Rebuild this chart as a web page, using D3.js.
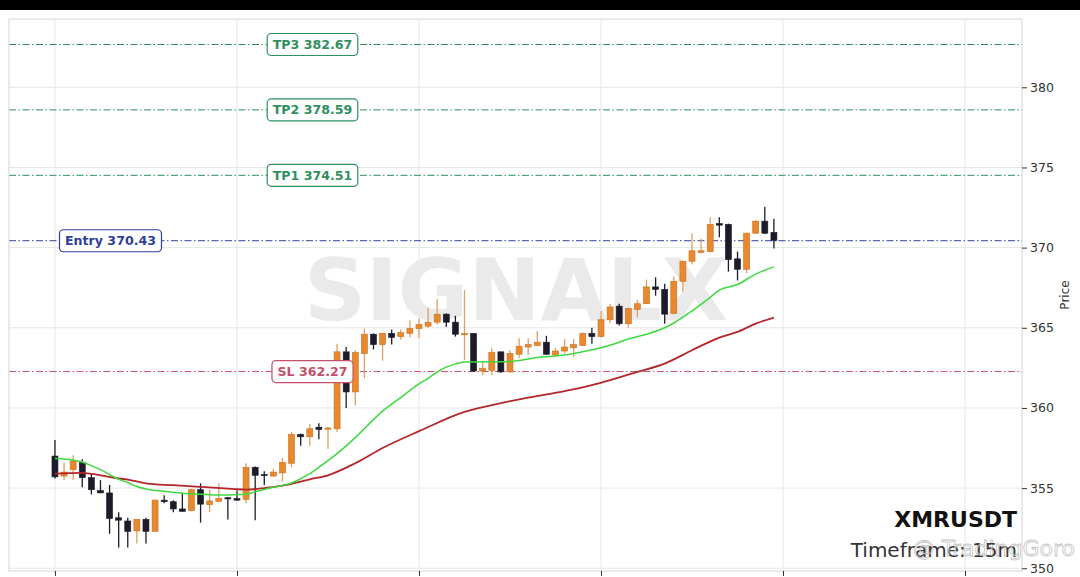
<!DOCTYPE html>
<html>
<head>
<meta charset="utf-8">
<script src="https://cdn.jsdelivr.net/npm/d3@7"></script>
<style>
  html, body { margin: 0; padding: 0; background: #fff; }
  svg { display: block; font-family: "DejaVu Sans", sans-serif; }
</style>
</head>
<body>
<svg id="chart" width="1080" height="577"></svg>
<script>
// candle data (15m bars)
const openV = [357.0,355.75,356.15,356.6,355.65,354.85,354.7,353.15,352.95,352.33,
  353.05,352.3,354.25,354.15,353.7,353.6,354.9,353.97,354.18,354.4,
  354.35,354.3,356.3,355.85,355.75,355.95,356.55,358.35,358.2,358.8,
  358.7,358.7,363.5,361.0,363.4,364.6,363.95,364.65,364.45,364.65,
  364.95,365.1,365.35,365.85,365.35,364.58,364.65,362.3,362.35,363.5,
  362.25,363.35,363.8,363.9,364.1,363.3,363.55,363.75,363.9,364.65,
  364.45,365.5,366.35,365.25,366.15,366.5,367.55,367.4,365.9,367.9,
  369.15,369.7,369.75,371.5,371.45,369.3,368.65,370.9,371.65,370.95];
const highV = [358.0,356.6,357.05,356.8,355.9,355.5,355.2,353.5,353.15,353.05,
  353.15,354.3,354.55,354.25,354.7,354.95,355.3,354.9,355.3,354.45,
  354.85,356.55,356.35,356.05,356.2,356.9,358.5,358.4,359.0,359.05,
  358.8,364.0,363.8,363.6,364.95,364.65,364.7,364.9,364.9,365.45,
  365.6,366.25,366.8,365.9,365.75,367.35,364.65,362.9,363.75,363.5,
  363.6,364.35,364.35,364.8,364.5,363.75,364.3,364.3,364.7,365.0,
  366.05,366.5,366.5,366.25,366.75,368.0,368.15,367.75,368.2,369.2,
  370.9,370.55,371.9,371.9,371.5,369.75,370.95,371.7,372.55,371.8];
const lowV = [355.6,355.5,355.5,355.05,354.6,354.7,352.15,351.3,351.3,351.55,
  351.55,352.3,354.05,353.5,353.55,353.55,352.85,353.5,354.1,353.05,
  354.2,354.05,353.0,355.2,355.7,355.4,356.3,357.65,357.65,358.05,
  357.45,358.5,360.0,360.15,361.85,363.65,362.95,363.95,364.25,364.4,
  364.35,365.0,365.2,365.05,364.45,363.0,362.25,362.05,362.05,362.2,
  362.2,363.1,363.3,363.85,363.3,363.25,363.4,363.2,363.85,364.0,
  364.4,365.3,365.15,365.0,365.65,366.5,367.0,365.25,365.85,367.25,
  368.95,369.65,369.7,370.65,368.5,367.95,368.4,370.85,370.85,369.95];
const closeV = [355.7,356.0,356.7,355.65,354.9,354.7,353.1,353.0,352.3,353.05,
  352.3,354.25,354.15,353.7,353.55,354.9,354.0,354.2,354.35,354.35,
  354.25,356.3,355.8,355.8,356.0,356.6,358.35,358.2,358.7,358.65,
  358.75,363.5,361.0,363.45,364.6,363.95,364.65,364.4,364.7,364.95,
  365.2,365.35,365.85,365.35,364.6,364.64,362.3,362.45,363.45,362.25,
  363.4,363.85,363.95,364.1,363.35,363.55,363.8,363.95,364.65,364.45,
  365.5,366.3,365.25,366.2,366.5,367.55,367.4,365.85,367.9,369.15,
  369.8,369.8,371.45,371.4,369.25,368.65,370.9,371.65,370.9,370.45];

// fast average (green), sampled at bar indices
const fastIdx = [0,2,3,4,5,6,7,8,9,10,12,14,16,18,20,21,22,24,26,28,29,31,33,36,38,40,41,42,44,45,48,50,53,56,58,60,62,63,65,67,68,70,72,73,75,77,79];
const fastVal = [356.85,356.75,356.63,356.4,356.15,355.85,355.55,355.35,355.1,354.95,354.8,354.68,354.62,354.57,354.6,354.62,354.78,355.05,355.32,355.9,356.3,357.15,358.15,359.8,360.65,361.5,361.85,362.25,362.75,362.87,362.88,362.9,363.15,363.3,363.5,363.75,364.1,364.3,364.6,365.0,365.3,366.05,366.9,367.35,367.7,368.35,368.8];

// slow average (red)
const slowIdx = [0,3,5,7,8,10,13,16,19,20,21,23,25,28,30,33,36,40,45,49,52,56,59,61,64,67,70,73,75,77,79];
const slowVal = [355.9,355.95,355.8,355.6,355.53,355.3,355.18,355.08,354.97,354.93,354.91,355.0,355.15,355.55,355.8,356.55,357.5,358.55,359.75,360.3,360.65,361.05,361.42,361.73,362.25,362.77,363.6,364.39,364.74,365.26,365.64];

// trade levels
const levelNames = ["TP3", "TP2", "TP1", "Entry", "SL"];
const levelValues = [382.67, 378.59, 374.51, 370.43, 362.27];
const levelColors = ["#2f8f5e", "#2f8f5e", "#2f8f5e", "#2e3f9c", "#c4506c"];
const levelLabelAt = [28.3, 28.3, 28.3, 6.1, 28.3]; // bar index where the tag sits

const yTicks = [350, 355, 360, 365, 370, 375, 380];
const xTicks = [0, 20, 40, 60, 80, 100];

const symbol = "XMRUSDT";
const timeframe = "Timeframe: 15m";

const svg = d3.select("#chart");
const pLeft = 9, pRight = 1022, pTop = 19, pBottom = 571;

const x = d3.scaleLinear().domain([-5.05, 106.26]).range([pLeft, pRight]);
const y = d3.scaleLinear().domain([349.83, 384.26]).range([pBottom, pTop]);

// screenshot bar at the top
svg.append("rect").attr("x", 0).attr("y", 0).attr("width", 1080).attr("height", 10).attr("fill", "#000");

// grid
const grid = svg.append("g");
grid.selectAll("line.h").data(yTicks).enter().append("line")
    .attr("x1", pLeft).attr("x2", pRight)
    .attr("y1", d => y(d)).attr("y2", d => y(d))
    .attr("stroke", "#e6e6e6").attr("stroke-width", 1);
grid.selectAll("line.v").data(xTicks).enter().append("line")
    .attr("x1", d => x(d)).attr("x2", d => x(d))
    .attr("y1", pTop).attr("y2", pBottom)
    .attr("stroke", "#e6e6e6").attr("stroke-width", 1);

// watermark
svg.append("text")
    .attr("x", (pLeft + pRight) / 2 + 0.5).attr("y", 320)
    .attr("text-anchor", "middle")
    .attr("font-size", 86).attr("font-weight", "bold")
    .attr("fill", "#eaeaea")
    .text("SIGNALX");

// level lines
const levels = levelNames.map((n, i) => ({name: n, value: levelValues[i], color: levelColors[i], at: levelLabelAt[i]}));
svg.selectAll("line.level").data(levels).enter().append("line")
    .attr("x1", pLeft).attr("x2", pRight)
    .attr("y1", d => y(d.value)).attr("y2", d => y(d.value))
    .attr("stroke", d => d.color).attr("stroke-width", 1)
    .attr("stroke-dasharray", "7,2.5,1.5,2.5");

// candles
const bars = d3.range(openV.length).map(i => ({i: i, o: openV[i], h: highV[i], l: lowV[i], c: closeV[i]}));
const bodyW = 6;
const up = "#e8892f", upEdge = "#c96f1c", down = "#1d1b29";
const cg = svg.append("g");
cg.selectAll("line.wick").data(bars).enter().append("line")
    .attr("x1", d => x(d.i)).attr("x2", d => x(d.i))
    .attr("y1", d => y(d.h)).attr("y2", d => y(d.l))
    .attr("stroke", d => d.c >= d.o ? "#dda064" : "#1d1b29")
    .attr("stroke-width", 1.3);
cg.selectAll("rect.body").data(bars).enter().append("rect")
    .attr("x", d => x(d.i) - bodyW / 2)
    .attr("width", bodyW)
    .attr("y", d => y(Math.max(d.o, d.c)))
    .attr("height", d => Math.max(1.2, Math.abs(y(d.o) - y(d.c))))
    .attr("fill", d => d.c >= d.o ? up : down)
    .attr("stroke", d => d.c >= d.o ? upEdge : down)
    .attr("stroke-width", 0.6);

// averages
const line = d3.line().x(d => x(d[0])).y(d => y(d[1])).curve(d3.curveMonotoneX);
svg.append("path")
    .datum(slowIdx.map((k, j) => [k, slowVal[j]]))
    .attr("d", line).attr("fill", "none")
    .attr("stroke", "#b3262a").attr("stroke-width", 1.8);
svg.append("path")
    .datum(fastIdx.map((k, j) => [k, fastVal[j]]))
    .attr("d", line).attr("fill", "none")
    .attr("stroke", "#3fd93f").attr("stroke-width", 1.5);

// level tags
const tags = svg.selectAll("g.tag").data(levels).enter().append("g")
    .attr("transform", d => `translate(${x(d.at)},${y(d.value)})`);
tags.each(function(d) {
    const g = d3.select(this);
    const t = g.append("text")
        .attr("text-anchor", "middle").attr("dy", "0.36em")
        .attr("font-size", 12.6).attr("font-weight", "bold")
        .attr("fill", d.color)
        .text(`${d.name} ${d.value.toFixed(2)}`);
    const bb = t.node().getBBox();
    g.insert("rect", "text")
        .attr("x", bb.x - 5.5).attr("y", -11)
        .attr("width", bb.width + 11).attr("height", 22)
        .attr("rx", 4)
        .attr("fill", "#fff").attr("stroke", d.color).attr("stroke-width", 1.2);
});

// frame
svg.append("rect")
    .attr("x", pLeft).attr("y", pTop)
    .attr("width", pRight - pLeft).attr("height", pBottom - pTop)
    .attr("fill", "none").attr("stroke", "#d4d4d4").attr("stroke-width", 1);

// right price axis
const yAxis = svg.append("g")
    .attr("transform", `translate(${pRight},0)`)
    .call(d3.axisRight(y).tickValues(yTicks).tickSize(5).tickPadding(3));
yAxis.select(".domain").remove();
yAxis.selectAll("line").attr("stroke", "#333");
yAxis.selectAll("text").attr("font-size", 12.5).attr("fill", "#333")
    .attr("font-family", "DejaVu Sans");

svg.append("text")
    .attr("transform", `translate(1069,${(pTop + pBottom) / 2}) rotate(-90)`)
    .attr("text-anchor", "middle")
    .attr("font-size", 12).attr("fill", "#333")
    .text("Price");

// bottom ticks (labels fall outside the shot)
const xAxis = svg.append("g")
    .attr("transform", `translate(0,${pBottom})`)
    .call(d3.axisBottom(x).tickValues(xTicks).tickSize(5).tickFormat(""));
xAxis.select(".domain").remove();
xAxis.selectAll("line").attr("stroke", "#333");

// symbol / timeframe
svg.append("text")
    .attr("x", 1017).attr("y", 527)
    .attr("text-anchor", "end")
    .attr("font-size", 22).attr("font-weight", "bold").attr("fill", "#111")
    .text(symbol);
svg.append("text")
    .attr("x", 1017).attr("y", 557)
    .attr("text-anchor", "end")
    .attr("font-size", 20).attr("fill", "#333")
    .text(timeframe);

// share-app watermark over the corner
svg.append("text")
    .attr("x", 1075).attr("y", 556)
    .attr("text-anchor", "end")
    .attr("font-size", 22)
    .attr("fill", "rgba(255,255,255,0.55)")
    .attr("stroke", "rgba(110,110,110,0.45)").attr("stroke-width", 0.8)
    .text("@ TradingGoro");
</script>
</body>
</html>
